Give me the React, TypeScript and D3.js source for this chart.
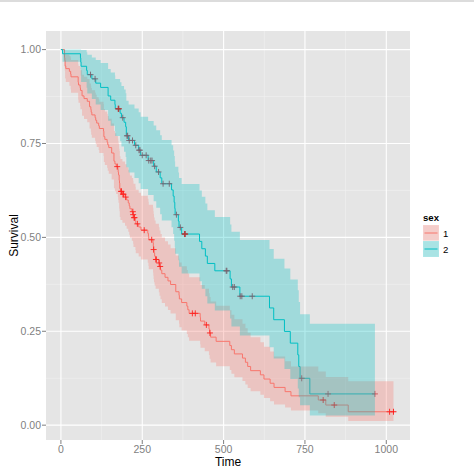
import * as d3 from "d3";

// Kaplan-Meier estimate, sex = 1
const time1 = [11, 12, 13, 15, 26, 30, 31, 53, 54, 59, 60, 65, 71, 81, 88, 92, 93, 95, 105, 107, 110, 116, 118, 131, 132, 135, 142, 144, 147, 156, 163, 166, 170, 175, 176, 177, 179, 180, 181, 183, 189, 197, 202, 207, 210, 212, 218, 222, 223, 229, 230, 239, 246, 267, 269, 270, 283, 284, 285, 286, 288, 291, 301, 303, 306, 310, 320, 329, 337, 353, 363, 364, 371, 387, 390, 394, 428, 429, 442, 455, 457, 460, 477, 519, 524, 533, 558, 567, 574, 583, 613, 624, 643, 655, 689, 707, 791, 814, 883];
const surv1 = [0.9783, 0.971, 0.9565, 0.9493, 0.942, 0.9348, 0.9275, 0.913, 0.9058, 0.8986, 0.8913, 0.8768, 0.8696, 0.8623, 0.8478, 0.8406, 0.8333, 0.8261, 0.8188, 0.8116, 0.8043, 0.7971, 0.7899, 0.7826, 0.7681, 0.7609, 0.7536, 0.7464, 0.7391, 0.7246, 0.7029, 0.6957, 0.6884, 0.6811, 0.6738, 0.6664, 0.6518, 0.6445, 0.6298, 0.6225, 0.615, 0.6073, 0.5995, 0.5917, 0.5839, 0.5762, 0.5684, 0.5605, 0.5525, 0.5442, 0.536, 0.5276, 0.5192, 0.5107, 0.5022, 0.4937, 0.485, 0.4764, 0.4676, 0.4587, 0.4499, 0.4411, 0.4319, 0.4225, 0.4129, 0.4033, 0.3937, 0.3841, 0.3745, 0.3553, 0.3457, 0.3361, 0.3265, 0.3169, 0.3073, 0.2977, 0.2874, 0.2771, 0.2669, 0.2562, 0.2455, 0.2344, 0.2232, 0.212, 0.2009, 0.1897, 0.1786, 0.1674, 0.1563, 0.1451, 0.134, 0.1228, 0.1116, 0.1005, 0.0893, 0.0781, 0.067, 0.0536, 0.0357];
const lower1 = [0.9542, 0.9434, 0.9231, 0.9134, 0.9038, 0.8945, 0.8853, 0.8672, 0.8583, 0.8496, 0.8409, 0.8237, 0.8152, 0.8067, 0.79, 0.7817, 0.7734, 0.7652, 0.757, 0.7489, 0.7408, 0.7328, 0.7247, 0.7167, 0.7008, 0.6929, 0.6851, 0.6772, 0.6694, 0.6538, 0.6306, 0.623, 0.6153, 0.6076, 0.5999, 0.5922, 0.5769, 0.5693, 0.5541, 0.5466, 0.5388, 0.5309, 0.5228, 0.5148, 0.5068, 0.4988, 0.4909, 0.4829, 0.4747, 0.4663, 0.4579, 0.4494, 0.4409, 0.4323, 0.4238, 0.4152, 0.4065, 0.3978, 0.3891, 0.3803, 0.3716, 0.3629, 0.3538, 0.3445, 0.335, 0.3256, 0.3162, 0.3069, 0.2976, 0.2791, 0.27, 0.2609, 0.2519, 0.2429, 0.2339, 0.225, 0.2155, 0.206, 0.1965, 0.1868, 0.177, 0.1669, 0.1569, 0.1469, 0.1371, 0.1275, 0.1179, 0.1085, 0.0992, 0.09, 0.0811, 0.0723, 0.0636, 0.0552, 0.047, 0.0391, 0.0314, 0.0223, 0.0109];
const upper1 = [1, 0.999, 0.991, 0.987, 0.982, 0.977, 0.972, 0.961, 0.956, 0.95, 0.945, 0.933, 0.928, 0.922, 0.91, 0.904, 0.898, 0.892, 0.886, 0.88, 0.873, 0.867, 0.861, 0.855, 0.842, 0.835, 0.829, 0.823, 0.816, 0.803, 0.783, 0.777, 0.77, 0.763, 0.757, 0.75, 0.736, 0.73, 0.716, 0.709, 0.702, 0.695, 0.687, 0.68, 0.673, 0.665, 0.658, 0.651, 0.643, 0.635, 0.627, 0.619, 0.611, 0.603, 0.595, 0.587, 0.579, 0.57, 0.562, 0.553, 0.545, 0.536, 0.527, 0.518, 0.509, 0.5, 0.49, 0.481, 0.471, 0.452, 0.443, 0.433, 0.423, 0.413, 0.404, 0.394, 0.383, 0.373, 0.363, 0.351, 0.341, 0.329, 0.318, 0.306, 0.294, 0.282, 0.27, 0.258, 0.246, 0.234, 0.221, 0.209, 0.196, 0.183, 0.17, 0.156, 0.143, 0.128, 0.117];
const censor1 = [173, 185, 186, 191, 192, 199, 221, 222, 225, 226, 235, 256, 279, 285, 292, 293, 302, 305, 404, 413, 447, 458, 806, 840, 1010, 1022];

// Kaplan-Meier estimate, sex = 2
const time2 = [5, 60, 61, 62, 79, 81, 95, 107, 122, 145, 153, 166, 167, 182, 186, 194, 199, 201, 208, 226, 239, 245, 268, 285, 293, 305, 310, 340, 345, 348, 350, 351, 361, 363, 371, 426, 433, 444, 450, 473, 520, 524, 550, 641, 654, 687, 705, 728, 731, 735, 765];
const surv2 = [0.9889, 0.9778, 0.9667, 0.9556, 0.9444, 0.9333, 0.9221, 0.9107, 0.8993, 0.8766, 0.8652, 0.8538, 0.8424, 0.8305, 0.8187, 0.8066, 0.7946, 0.7705, 0.7581, 0.7452, 0.7322, 0.7186, 0.7045, 0.6895, 0.6742, 0.6585, 0.6428, 0.6264, 0.6099, 0.5934, 0.5769, 0.5604, 0.5434, 0.5265, 0.5089, 0.4893, 0.4698, 0.4502, 0.4306, 0.411, 0.3894, 0.3678, 0.3433, 0.3121, 0.2808, 0.2496, 0.2184, 0.1872, 0.156, 0.1248, 0.0832];
const lower2 = [0.9675, 0.9478, 0.9303, 0.9139, 0.8983, 0.8832, 0.8683, 0.8535, 0.839, 0.8108, 0.797, 0.7834, 0.7699, 0.7559, 0.742, 0.728, 0.7142, 0.6869, 0.6729, 0.6584, 0.6438, 0.6287, 0.6129, 0.5962, 0.5791, 0.5618, 0.5447, 0.5267, 0.509, 0.4913, 0.4739, 0.4566, 0.439, 0.4215, 0.4035, 0.3832, 0.3632, 0.3435, 0.3241, 0.305, 0.2837, 0.2628, 0.239, 0.2076, 0.1778, 0.1496, 0.1229, 0.0978, 0.0743, 0.0527, 0.0257];
const upper2 = [1, 1, 1, 0.999, 0.993, 0.986, 0.979, 0.972, 0.964, 0.948, 0.939, 0.931, 0.922, 0.913, 0.903, 0.894, 0.884, 0.864, 0.854, 0.843, 0.833, 0.821, 0.81, 0.798, 0.785, 0.772, 0.759, 0.745, 0.731, 0.717, 0.702, 0.688, 0.673, 0.658, 0.642, 0.625, 0.608, 0.59, 0.572, 0.554, 0.534, 0.515, 0.493, 0.469, 0.443, 0.417, 0.388, 0.359, 0.328, 0.295, 0.27];
const censor2 = [91, 105, 176, 177, 178, 190, 203, 205, 210, 220, 230, 240, 243, 250, 262, 270, 276, 280, 288, 300, 314, 333, 355, 367, 380, 381, 382, 508, 510, 528, 533, 551, 556, 588, 740, 821, 965];
// censor marks in group 2 that stack up and show red
const stacked2 = [176, 177, 178, 380, 381, 382];

const xTicks = [0, 250, 500, 750, 1000];
const yTicks = [0, 0.25, 0.5, 0.75, 1];
const groups = ["1", "2"];
const colors = ["#F8766D", "#00BFC4"];

const W = 474;
const H = 475;
const panel = { left: 46, right: 410, top: 31, bottom: 440 };

type Pt = { t: number; s: number; lo: number; hi: number };

function steps(times: number[], s: number[], lo: number[], hi: number[], end: number): Pt[] {
  const pts: Pt[] = [{ t: 0, s: 1, lo: 1, hi: 1 }];
  times.forEach((t, i) => pts.push({ t, s: s[i], lo: lo[i], hi: hi[i] }));
  const last = pts[pts.length - 1];
  pts.push({ ...last, t: end });
  return pts;
}

function survAt(pts: Pt[], t: number) {
  let v = 1;
  for (const p of pts) if (p.t <= t) v = p.s;
  return v;
}

export default function App() {
  const x = d3.scaleLinear().domain([5 - 50.85, 1022 + 50.85]).range([panel.left, panel.right]);
  const y = d3.scaleLinear().domain([-0.0395, 1.0495]).range([panel.bottom, panel.top]);

  const data = [
    steps(time1, surv1, lower1, upper1, d3.max(censor1)!),
    steps(time2, surv2, lower2, upper2, d3.max(censor2)!),
  ];
  const cens = [censor1, censor2];

  const line = d3.line<Pt>().x((d) => x(d.t)).y((d) => y(d.s)).curve(d3.curveStepAfter);
  const area = d3
    .area<Pt>()
    .x((d) => x(d.t))
    .y0((d) => y(d.lo))
    .y1((d) => y(d.hi))
    .curve(d3.curveStepAfter);

  const xMinor = [125, 375, 625, 875];
  const yMinor = [0.125, 0.375, 0.625, 0.875];
  const font = "'Liberation Sans', Arial, sans-serif";

  const markColor = (i: number, t: number) =>
    i === 0 || stacked2.includes(t) ? "red" : "#b03a4a";

  return (
    <div style={{ position: "absolute", left: 0, top: 0 }}>
      <svg width={W} height={H} style={{ display: "block" }} fontFamily={font}>
        <rect width={W} height={H} fill="white" />
        <rect width={W} height={2} fill="#dcdcdc" />
        <rect
          x={panel.left}
          y={panel.top}
          width={panel.right - panel.left}
          height={panel.bottom - panel.top}
          fill="#E5E5E5"
        />
        {xMinor.map((v) => (
          <line key={"xm" + v} x1={x(v)} x2={x(v)} y1={panel.top} y2={panel.bottom} stroke="#F2F2F2" strokeWidth={0.6} />
        ))}
        {yMinor.map((v) => (
          <line key={"ym" + v} x1={panel.left} x2={panel.right} y1={y(v)} y2={y(v)} stroke="#F2F2F2" strokeWidth={0.6} />
        ))}
        {xTicks.map((v) => (
          <line key={"xg" + v} x1={x(v)} x2={x(v)} y1={panel.top} y2={panel.bottom} stroke="white" strokeWidth={1.1} />
        ))}
        {yTicks.map((v) => (
          <line key={"yg" + v} x1={panel.left} x2={panel.right} y1={y(v)} y2={y(v)} stroke="white" strokeWidth={1.1} />
        ))}

        {/* survival steps and censor marks, ribbons laid over them */}
        {data.map((d, i) => (
          <path key={"l" + i} d={line(d)!} fill="none" stroke={colors[i]} strokeWidth={1} />
        ))}
        {cens.map((c, i) =>
          c.map((t, j) => {
            const cx = x(t);
            const cy = y(survAt(data[i], t));
            return (
              <path
                key={"c" + i + "-" + j}
                d={`M${cx - 3},${cy}H${cx + 3}M${cx},${cy - 3}V${cy + 3}`}
                stroke={markColor(i, t)}
                strokeWidth={0.9}
                fill="none"
              />
            );
          })
        )}
        {data.map((d, i) => (
          <path key={"a" + i} d={area(d)!} fill={colors[i]} fillOpacity={0.3} stroke="none" />
        ))}

        {/* axes */}
        {xTicks.map((v) => (
          <g key={"xt" + v}>
            <line x1={x(v)} x2={x(v)} y1={panel.bottom} y2={panel.bottom + 4} stroke="#7F7F7F" />
            <text x={x(v)} y={panel.bottom + 12.5} textAnchor="middle" fontSize={10.5} fill="#7F7F7F">
              {d3.format("d")(v)}
            </text>
          </g>
        ))}
        {yTicks.map((v) => (
          <g key={"yt" + v}>
            <line x1={panel.left - 4} x2={panel.left} y1={y(v)} y2={y(v)} stroke="#7F7F7F" />
            <text x={panel.left - 5} y={y(v) + 3.7} textAnchor="end" fontSize={10.5} fill="#7F7F7F">
              {d3.format(".2f")(v)}
            </text>
          </g>
        ))}
        <text x={(panel.left + panel.right) / 2} y={466} textAnchor="middle" fontSize={12}>
          Time
        </text>
        <text
          transform={`translate(18,${(panel.top + panel.bottom) / 2}) rotate(-90)`}
          textAnchor="middle"
          fontSize={12}
        >
          Survival
        </text>

        {/* legend */}
        <text x={423} y={221} fontSize={9.6} fontWeight="bold">
          sex
        </text>
        {groups.map((g, i) => {
          const ky = 225 + i * 16;
          return (
            <g key={"k" + g}>
              <rect x={423} y={ky} width={16} height={16} fill="#F2F2F2" stroke="white" strokeWidth={0.6} />
              <rect x={423} y={ky} width={16} height={16} fill={colors[i]} fillOpacity={0.3} />
              <line x1={424.5} x2={437.5} y1={ky + 8} y2={ky + 8} stroke={colors[i]} strokeWidth={1} />
              <text x={443} y={ky + 11.5} fontSize={9.6}>
                {g}
              </text>
            </g>
          );
        })}
      </svg>
    </div>
  );
}
